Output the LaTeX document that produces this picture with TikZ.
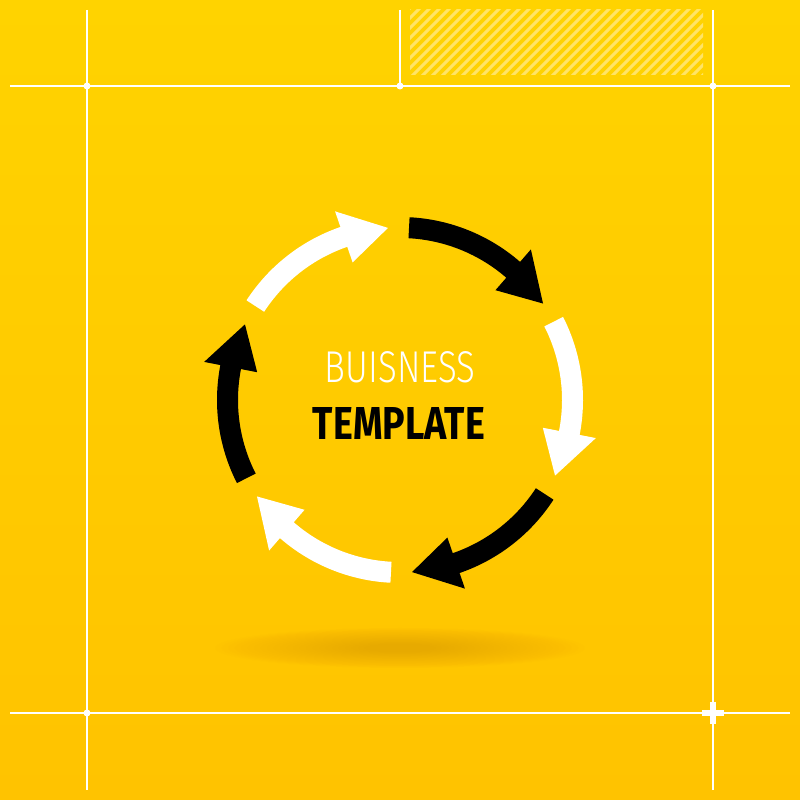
\documentclass[tikz,border=0pt]{standalone}
\usepackage{graphicx}
\usepackage{fontspec}
\setmainfont{Fira Sans}
\newfontfamily\lightfont{Fira Sans Light}
\definecolor{bgtop}{HTML}{FFD300}
\definecolor{bgbot}{HTML}{FFC300}
\definecolor{shadowc}{HTML}{D69500}
\begin{document}
\begin{tikzpicture}[x=1pt,y=1pt,
  guide/.style={draw=white,line width=1.1pt},
  hatchline/.style={draw=white,opacity=0.4,line width=3pt},
  dot/.style={fill=white}]
\useasboundingbox (0,0) rectangle (800,800);
\shade[top color=bgtop,bottom color=bgbot] (0,0) rectangle (800,800);
% shadow
\foreach \i in {0,...,23}{
  \fill[shadowc,opacity=0.025] (400,152) ellipse ({185-\i*6.5} and {20-\i*0.7});
}
% hatch
\begin{scope}
  \clip (410,725) rectangle (703,790);
  \foreach \k in {0,...,38} \draw[hatchline] ({340+\k*10},722) -- ++(72,72);
\end{scope}
% guide lines
\draw[guide] (87,790) -- (87,10);
\draw[guide] (713,790) -- (713,10);
\draw[guide] (400,790) -- (400,714);
\draw[guide] (10,714) -- (790,714);
\draw[guide] (10,87) -- (790,87);
\fill[dot] (87,714) circle (3.5);
\fill[dot] (400,714) circle (3.5);
\fill[dot] (713,714) circle (3.5);
\fill[dot] (87,87) circle (3.5);
\fill[white] (702,84) rectangle (724,90);
\fill[white] (710,76) rectangle (716,98);
% ring arrows
\foreach \c/\col in {60/black,0/white,-60/black,-120/white,180/black,120/white}{
  \pgfmathsetmacro\a{\c+27}
  \pgfmathsetmacro\b{\c-11}
  \pgfmathsetmacro\t{\c-26}
  \fill[\col,shift={(400,400)}] (\a:183) arc[start angle=\a,end angle=\b,radius=183]
    -- (\b:199.5) -- (\t:172.5) -- (\b:145.5) -- (\b:162)
    arc[start angle=\b,end angle=\a,radius=162] -- cycle;
}
% text
\node[text=white,inner sep=0pt] (t1) at (400,432.5) {\resizebox{150pt}{31pt}{\lightfont BUISNESS}};
\node[text=black,inner sep=0pt] (t2) at (399,376) {\resizebox{172pt}{32pt}{\bfseries TEMPLATE}};
\end{tikzpicture}
\end{document}
